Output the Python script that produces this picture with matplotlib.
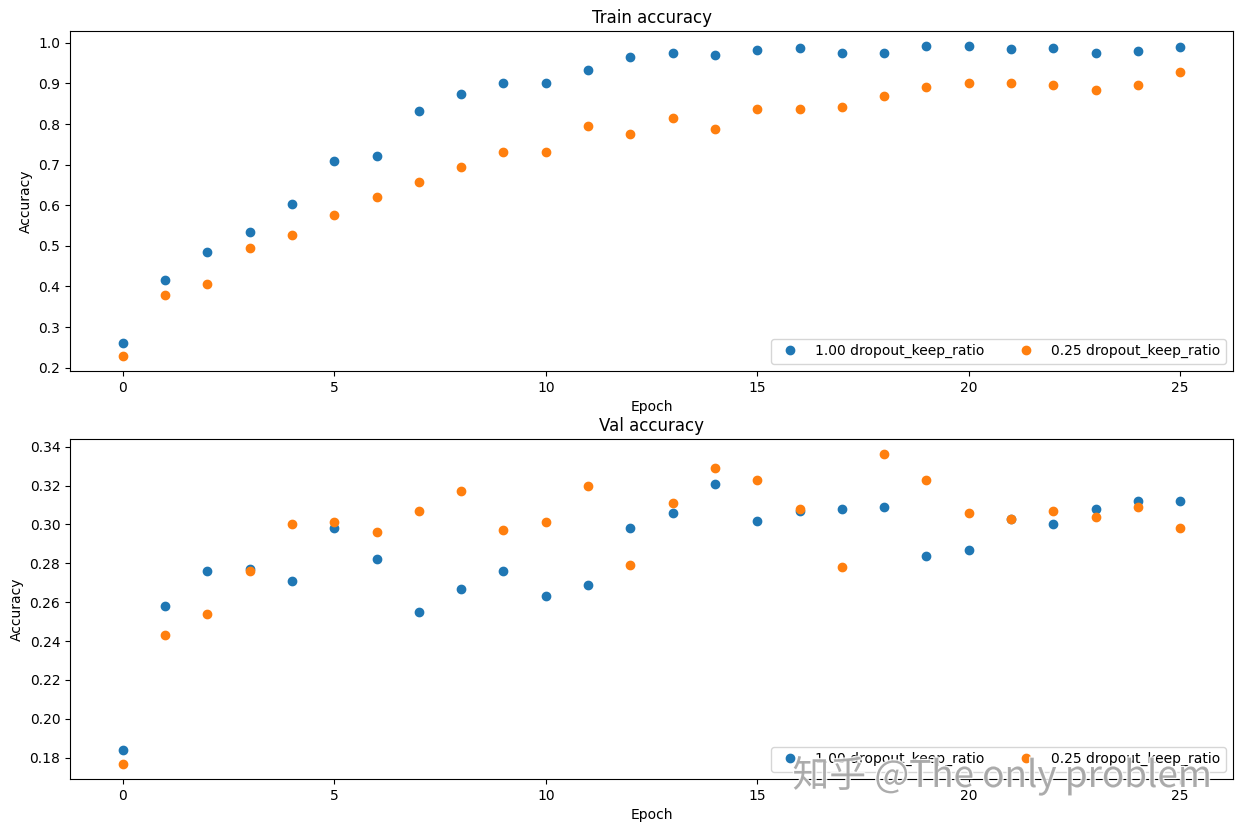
import matplotlib
matplotlib.use("Agg")
import matplotlib.pyplot as plt
import matplotlib.patheffects as pe

plt.rcParams['font.family'] = ['DejaVu Sans', 'Noto Sans CJK SC']

dropout_choices = [1.00, 0.25]

train_acc = {
    1.00: [0.262, 0.417, 0.484, 0.533, 0.602, 0.710, 0.721, 0.833, 0.875, 0.900,
           0.902, 0.934, 0.966, 0.976, 0.969, 0.982, 0.987, 0.975, 0.976, 0.991,
           0.991, 0.984, 0.986, 0.976, 0.979, 0.989],
    0.25: [0.230, 0.380, 0.405, 0.496, 0.528, 0.577, 0.620, 0.658, 0.693, 0.730,
           0.730, 0.796, 0.775, 0.816, 0.787, 0.838, 0.838, 0.841, 0.868, 0.890,
           0.900, 0.902, 0.895, 0.883, 0.897, 0.927],
}

val_acc = {
    1.00: [0.184, 0.258, 0.276, 0.277, 0.271, 0.298, 0.282, 0.255, 0.267, 0.276,
           0.263, 0.269, 0.298, 0.306, 0.321, 0.302, 0.307, 0.308, 0.309, 0.284,
           0.287, 0.303, 0.300, 0.308, 0.312, 0.312],
    0.25: [0.177, 0.243, 0.254, 0.276, 0.300, 0.301, 0.296, 0.307, 0.317, 0.297,
           0.301, 0.320, 0.279, 0.311, 0.329, 0.323, 0.308, 0.278, 0.336, 0.323,
           0.306, 0.303, 0.307, 0.304, 0.309, 0.298],
}

W, H, DPI = 1242, 832, 100
fig = plt.figure(figsize=(W / DPI, H / DPI), dpi=DPI)

ax1 = fig.add_axes([70 / W, 1 - 371 / H, 1163 / W, 340 / H])
ax2 = fig.add_axes([70 / W, 1 - 779 / H, 1163 / W, 340 / H])

for ax, hist, title in [(ax1, train_acc, 'Train accuracy'),
                        (ax2, val_acc, 'Val accuracy')]:
    for dropout in dropout_choices:
        ax.plot(hist[dropout], 'o', label='%.2f dropout_keep_ratio' % dropout)
    ax.set_title(title)
    ax.set_xlabel('Epoch')
    ax.set_ylabel('Accuracy')
    ax.legend(ncol=2, loc='lower right')

# watermark
fig.text(1002 / W, 1 - 776 / H, '知乎 @The only problem', fontsize=26.5,
         color='#a0a0a0', alpha=0.85, ha='center', va='center',
         family=['Noto Sans CJK SC', 'DejaVu Sans'],
         path_effects=[pe.withStroke(linewidth=2, foreground='white')])

fig.savefig('out.png', dpi=DPI)
